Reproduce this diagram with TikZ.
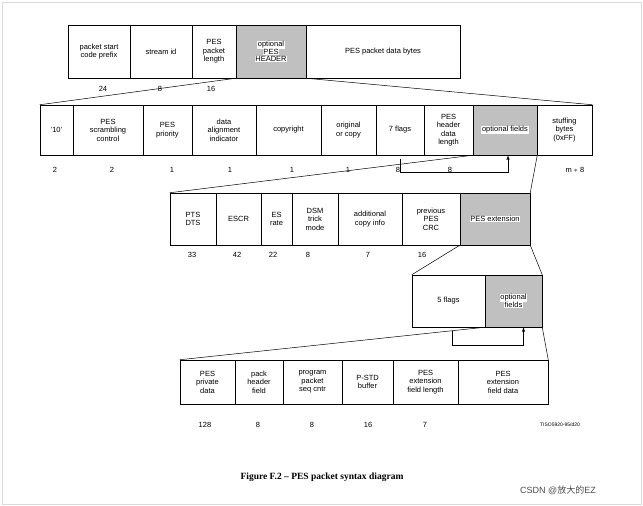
\documentclass[tikz,border=0pt]{standalone}
\usepackage{fontspec}
\setmainfont{Liberation Sans}
\newfontfamily\capfont{Liberation Serif}
\newfontfamily\cjk{Noto Sans CJK SC}
\newcommand{\hlw}[1]{{\setlength{\fboxsep}{0.6pt}\colorbox{white}{#1}}}
\definecolor{fieldgray}{RGB}{192,192,192}
\begin{document}
\begin{tikzpicture}[
        x=1pt, y=-1pt,
        >=latex,
        cell/.style={draw, line width=0.5pt, inner sep=1pt, align=center,
            font=\fontsize{7.5}{8.5}\selectfont},
        opt/.style={cell, fill=fieldgray},
        bits/.style={font=\fontsize{7.5}{8.5}\selectfont},
        zoom/.style={line width=0.5pt},
        loop/.style={->, line width=0.5pt}
    ]
    \useasboundingbox (0,0) rectangle (643,506);
    \draw[black!15] (2,2) rectangle (641,504);

        % PES packet
        \node[cell, minimum width=62, minimum height=53] (pscp) at (99,51.5) {packet start\\code prefix};
        \node[cell, minimum width=62, minimum height=53] (sid) at (161,51.5) {stream id};
        \node[cell, minimum width=44, minimum height=53] (plen) at (214,51.5) {PES\\packet\\length};
        \node[opt, minimum width=70, minimum height=53] (ophdr) at (271,51.5) {\hlw{optional}\\[-1pt]\hlw{PES}\\[-1pt]\hlw{HEADER}};
        \node[cell, minimum width=154, minimum height=53] (pdata) at (383,51.5) {PES packet data bytes};
        \node[bits] (b24) at (103,89) {24};
        \node[bits] (b8a) at (160,89) {8};
        \node[bits] (b16a) at (211,89) {16};

        % PES header
        \node[cell, minimum width=33, minimum height=50] (ten) at (56.5,130) {'10'};
        \node[cell, minimum width=70, minimum height=50] (scr) at (108,130) {PES\\scrambling\\control};
        \node[cell, minimum width=49, minimum height=50] (prio) at (167.5,130) {PES\\priority};
        \node[cell, minimum width=64, minimum height=50] (align) at (224,130) {data\\alignment\\indicator};
        \node[cell, minimum width=65, minimum height=50] (copy) at (288.5,130) {copyright};
        \node[cell, minimum width=55, minimum height=50] (orig) at (348.5,130) {original\\or copy};
        \node[cell, minimum width=48, minimum height=50] (flags7) at (400,130) {7 flags};
        \node[cell, minimum width=49, minimum height=50] (hlen) at (448.5,130) {PES\\header\\data\\length};
        \node[opt, minimum width=64, minimum height=50] (optf) at (505,130) {\hlw{optional fields}};
        \node[cell, minimum width=55, minimum height=50] (stuff) at (564.5,130) {stuffing\\bytes\\(0xFF)};
        \node[bits] (b2a) at (55,170) {2};
        \node[bits] (b2b) at (112,170) {2};
        \node[bits] (b1a) at (172,170) {1};
        \node[bits] (b1b) at (230,170) {1};
        \node[bits] (b1c) at (292,170) {1};
        \node[bits] (b1d) at (348,170) {1};
        \node[bits] (b8b) at (398,170) {8};
        \node[bits] (b8c) at (450,170) {8};
        \node[bits] (bm8) at (575,170) {m $*$ 8};

        % Optional fields
        \node[cell, minimum width=46, minimum height=52] (pts) at (193,219) {PTS\\DTS};
        \node[cell, minimum width=45, minimum height=52] (escr) at (238.5,219) {ESCR};
        \node[cell, minimum width=31, minimum height=52] (esr) at (276.5,219) {ES\\rate};
        \node[cell, minimum width=46, minimum height=52] (dsm) at (315,219) {DSM\\trick\\mode};
        \node[cell, minimum width=64, minimum height=52] (acpy) at (370,219) {additional\\copy info};
        \node[cell, minimum width=58, minimum height=52] (crc) at (431,219) {previous\\PES\\CRC};
        \node[opt, minimum width=70, minimum height=52] (ext) at (495,219) {\hlw{PES extension}};
        \node[bits] (b33) at (192,255) {33};
        \node[bits] (b42) at (237,255) {42};
        \node[bits] (b22) at (273,255) {22};
        \node[bits] (b8d) at (308,255) {8};
        \node[bits] (b7a) at (368,255) {7};
        \node[bits] (b16b) at (422,255) {16};

        % PES extension
        \node[cell, minimum width=73, minimum height=52] (flags5) at (448.5,301) {5 flags};
        \node[opt, minimum width=57, minimum height=52] (optf2) at (513.5,301) {\hlw{optional}\\[-1pt]\hlw{fields}};

        % Extension fields
        \node[cell, minimum width=55, minimum height=44] (priv) at (207.5,382) {PES\\private\\data};
        \node[cell, minimum width=48, minimum height=44] (pack) at (259,382) {pack\\header\\field};
        \node[cell, minimum width=59, minimum height=44] (seq) at (312.5,382) {program\\packet\\seq cntr};
        \node[cell, minimum width=51, minimum height=44] (pstd) at (367.5,382) {P-STD\\buffer};
        \node[cell, minimum width=65, minimum height=44] (elen) at (425.5,382) {PES\\extension\\field length};
        \node[cell, minimum width=90, minimum height=44] (edata) at (503,382) {PES\\extension\\field data};
        \node[bits] (b128) at (205,425) {128};
        \node[bits] (b8e) at (258,425) {8};
        \node[bits] (b8f) at (312,425) {8};
        \node[bits] (b16c) at (368,425) {16};
        \node[bits] (b7b) at (425,425) {7};
        \node[font=\fontsize{5}{6}\selectfont] (tag) at (560,425) {TISO5920-95/d20};

        % Zoom lines
        \draw[zoom] (ophdr.south west) -- (ten.north west);
        \draw[zoom] (ophdr.south east) -- (stuff.north east);
        \draw[zoom] (optf.south west) -- (pts.north west);
        \draw[zoom] (optf.south east) -- (ext.north east);
        \draw[zoom] (ext.south west) -- (flags5.north west);
        \draw[zoom] (ext.south east) -- (optf2.north east);
        \draw[zoom] (optf2.south west) -- (priv.north west);
        \draw[zoom] (optf2.south east) -- (edata.north east);

        % Flag loops
        \coordinate (fbA) at (400,159);
        \draw[loop] (fbA) -- ++(0,13) -| ([xshift=3]optf.south);
        \coordinate (fbB) at (452,331);
        \draw[loop] (fbB) -- ++(0,14) -| ([xshift=10]optf2.south);

        % Caption
        \node[font=\capfont\bfseries\fontsize{9.5}{11}\selectfont] (cap) at (322,477) {Figure F.2 – PES packet syntax diagram};
        \node[font=\fontsize{9}{10}\selectfont, text=black!70] (mark) at (558,490) {CSDN @{\cjk 放大的}EZ};
\end{tikzpicture}
\end{document}
